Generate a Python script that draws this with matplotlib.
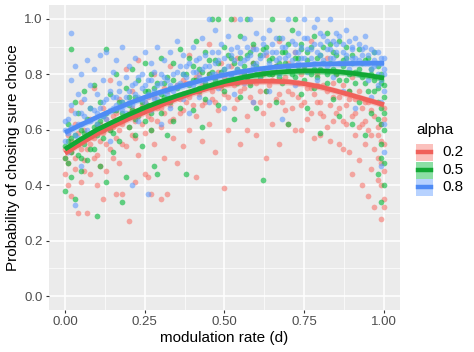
import matplotlib
matplotlib.use("Agg")
import matplotlib.pyplot as plt
from matplotlib.patches import Rectangle
from matplotlib.lines import Line2D

plt.rcParams['font.family'] = ['Liberation Sans', 'DejaVu Sans']

# ---------------- data ----------------
group_labels = ['0.2', '0.5', '0.8']
group_colors = ['#F8766D', '#00BA38', '#619CFF']
line_colors = ['#F0605A', '#12A834', '#4F8BF5']

red_x = [0.00,0.00,0.01,0.01,0.02,0.02,0.02,0.03,0.03,0.04,0.04,0.05,0.05,0.06,0.06,0.07,0.07,0.08,0.08,0.09,0.09,0.10,0.10,0.11,0.11,0.12,0.12,0.13,0.13,0.14,0.14,0.15,0.15,0.16,0.16,0.17,0.17,0.18,0.18,0.19,0.19,0.20,0.20,0.21,0.21,0.22,0.22,0.23,0.23,0.24,0.25,0.25,0.26,0.26,0.27,0.27,0.28,0.28,0.29,0.30,0.30,0.31,0.31,0.32,0.32,0.33,0.33,0.34,0.35,0.35,0.36,0.37,0.37,0.38,0.39,0.39,0.40,0.41,0.41,0.42,0.43,0.43,0.44,0.45,0.45,0.46,0.47,0.47,0.48,0.49,0.50,0.50,0.51,0.52,0.53,0.53,0.54,0.55,0.55,0.56,0.57,0.57,0.58,0.59,0.59,0.60,0.61,0.61,0.62,0.63,0.63,0.64,0.65,0.65,0.66,0.67,0.67,0.68,0.69,0.70,0.70,0.71,0.72,0.72,0.73,0.74,0.74,0.75,0.76,0.77,0.77,0.78,0.79,0.79,0.80,0.80,0.81,0.82,0.82,0.83,0.84,0.84,0.85,0.86,0.86,0.87,0.87,0.88,0.89,0.89,0.90,0.90,0.91,0.91,0.92,0.92,0.93,0.93,0.94,0.94,0.95,0.95,0.96,0.96,0.97,0.97,0.98,0.98,0.99,0.99,0.99,1.00,1.00,1.00]
red_y = [0.50,0.44,0.40,0.58,0.52,0.67,0.36,0.46,0.62,0.30,0.55,0.70,0.41,0.49,0.60,0.30,0.53,0.64,0.44,0.57,0.75,0.40,0.51,0.62,0.47,0.35,0.68,0.55,0.45,0.60,0.78,0.50,0.65,0.37,0.57,0.71,0.48,0.37,0.62,0.54,0.82,0.66,0.27,0.58,0.74,0.41,0.63,0.51,0.85,0.69,0.44,0.59,0.72,0.43,0.37,0.64,0.80,0.55,0.68,0.35,0.61,0.75,0.50,0.37,0.70,0.63,0.83,0.57,0.72,0.48,0.66,0.78,0.54,0.70,0.60,0.87,0.74,0.43,0.65,0.80,0.69,0.56,0.76,0.62,0.91,0.71,0.52,0.79,0.67,0.84,0.39,0.73,0.60,0.78,1.00,0.68,0.86,0.55,0.74,0.81,0.65,0.60,0.77,0.90,0.70,0.58,0.82,0.74,0.66,0.50,0.87,0.76,0.62,0.80,0.71,0.55,0.92,0.78,0.67,0.84,0.62,0.73,0.60,0.88,0.77,0.69,0.60,0.82,0.64,0.75,0.92,0.57,0.70,0.80,0.58,0.66,0.76,0.61,0.86,0.56,0.72,0.63,0.80,0.55,0.68,0.53,0.76,0.62,0.52,0.71,0.44,0.79,0.58,0.66,0.49,0.74,0.40,0.62,0.55,0.70,0.36,0.60,0.46,0.67,0.53,0.32,0.58,0.42,0.62,0.28,0.48,0.55,0.35,0.68]
red_band_x = [0.00,0.01,0.02,0.03,0.04,0.05,0.06,0.07,0.08,0.09,0.10,0.11,0.12,0.13,0.14,0.15,0.16,0.17,0.18,0.19,0.20,0.21,0.22,0.23,0.24,0.25,0.26,0.27,0.28,0.29,0.30,0.31,0.32,0.33,0.34,0.35,0.36,0.37,0.38,0.39,0.40,0.41,0.42,0.43,0.44,0.45,0.46,0.47,0.48,0.49,0.50,0.51,0.52,0.53,0.54,0.55,0.56,0.57,0.58,0.59,0.60,0.61,0.62,0.63,0.64,0.65,0.66,0.67,0.68,0.69,0.70,0.71,0.72,0.73,0.74,0.75,0.76,0.77,0.78,0.79,0.80,0.81,0.82,0.83,0.84,0.85,0.86,0.87,0.88,0.89,0.90,0.91,0.92,0.93,0.94,0.95,0.96,0.97,0.98,0.99,1.00,1.00,0.99,1.00,0.98]
red_band_y = [0.53,0.48,0.56,0.50,0.59,0.53,0.45,0.58,0.55,0.50,0.61,0.56,0.59,0.64,0.53,0.61,0.66,0.60,0.55,0.65,0.61,0.68,0.57,0.66,0.62,0.70,0.65,0.60,0.72,0.63,0.68,0.66,0.74,0.69,0.64,0.76,0.71,0.67,0.77,0.72,0.69,0.79,0.73,0.76,0.70,0.80,0.74,0.70,0.81,0.75,0.79,0.72,0.83,0.76,0.71,0.81,0.75,0.79,0.72,0.84,0.77,0.70,0.80,0.74,0.69,0.78,0.83,0.73,0.70,0.79,0.74,0.68,0.77,0.72,0.80,0.70,0.75,0.66,0.73,0.76,0.70,0.65,0.74,0.69,0.77,0.66,0.72,0.63,0.69,0.74,0.65,0.71,0.61,0.68,0.63,0.70,0.58,0.65,0.61,0.56,0.64,0.45,0.40,0.32,0.50]

green_x = [0.00,0.00,0.01,0.01,0.02,0.02,0.02,0.03,0.03,0.04,0.04,0.05,0.05,0.06,0.06,0.07,0.07,0.08,0.08,0.09,0.09,0.10,0.10,0.11,0.11,0.12,0.12,0.13,0.13,0.14,0.14,0.15,0.15,0.16,0.16,0.17,0.17,0.18,0.18,0.19,0.19,0.20,0.20,0.21,0.22,0.22,0.23,0.23,0.24,0.24,0.25,0.25,0.26,0.27,0.27,0.28,0.28,0.29,0.29,0.30,0.30,0.31,0.32,0.32,0.33,0.34,0.34,0.35,0.36,0.36,0.37,0.38,0.38,0.39,0.40,0.40,0.41,0.42,0.42,0.43,0.44,0.44,0.45,0.46,0.46,0.47,0.48,0.48,0.49,0.50,0.50,0.51,0.52,0.52,0.53,0.54,0.55,0.55,0.56,0.57,0.57,0.58,0.59,0.60,0.60,0.61,0.62,0.62,0.63,0.64,0.65,0.65,0.66,0.67,0.67,0.68,0.69,0.70,0.70,0.71,0.72,0.72,0.73,0.74,0.74,0.75,0.76,0.76,0.77,0.78,0.78,0.79,0.80,0.80,0.81,0.82,0.82,0.83,0.84,0.84,0.85,0.86,0.86,0.87,0.88,0.88,0.89,0.90,0.90,0.91,0.92,0.92,0.93,0.94,0.94,0.95,0.96,0.96,0.97,0.97,0.98,0.98,0.99,0.99,1.00,1.00,0.99,0.99,0.98,1.00,0.99]
green_y = [0.38,0.54,0.48,0.62,0.89,0.43,0.57,0.70,0.35,0.51,0.66,0.45,0.60,0.74,0.55,0.49,0.64,0.58,0.68,0.53,0.76,0.29,0.62,0.47,0.70,0.57,0.65,0.89,0.41,0.60,0.73,0.52,0.67,0.63,0.80,0.56,0.70,0.34,0.66,0.43,0.75,0.61,0.69,0.82,0.58,0.72,0.65,0.78,0.54,0.70,0.84,0.63,0.74,0.60,0.80,0.69,0.47,0.44,0.77,0.66,0.86,0.72,0.58,0.79,0.70,0.84,0.63,0.75,0.68,0.89,0.80,0.44,0.73,0.86,0.67,0.78,0.92,0.75,0.82,0.61,0.88,0.71,0.80,1.00,0.76,0.85,1.00,0.69,0.81,0.90,0.74,0.78,1.00,0.86,0.64,0.82,0.94,0.72,0.80,1.00,0.87,0.76,0.91,0.68,0.83,0.79,0.42,0.89,0.74,0.85,1.00,0.80,0.70,0.93,0.84,0.77,0.88,0.82,0.62,0.96,1.00,0.79,0.86,0.73,0.91,0.83,0.68,0.88,0.80,0.94,0.75,0.86,0.82,0.59,0.90,0.77,0.95,0.84,0.71,0.88,0.80,0.92,0.65,0.85,0.78,0.90,0.74,0.87,0.62,0.81,0.89,0.70,0.84,0.77,0.58,0.86,0.80,0.66,0.74,0.88,0.70,0.83,0.62,0.77,0.72,0.66,0.55,0.50,0.44,0.40,0.34]
green_band_x = [0.00,0.01,0.02,0.03,0.04,0.05,0.06,0.07,0.08,0.09,0.10,0.11,0.12,0.13,0.14,0.15,0.16,0.17,0.18,0.19,0.20,0.21,0.22,0.23,0.24,0.25,0.26,0.27,0.28,0.29,0.30,0.31,0.32,0.33,0.34,0.35,0.36,0.37,0.38,0.39,0.40,0.41,0.42,0.43,0.44,0.45,0.46,0.47,0.48,0.49,0.50,0.51,0.52,0.53,0.54,0.55,0.56,0.57,0.58,0.59,0.60,0.61,0.62,0.63,0.64,0.65,0.66,0.67,0.68,0.69,0.70,0.71,0.72,0.73,0.74,0.75,0.76,0.77,0.78,0.79,0.80,0.81,0.82,0.83,0.84,0.85,0.86,0.87,0.88,0.89,0.90,0.91,0.92,0.93,0.94,0.95,0.96,0.97,0.98,0.99,1.00,0.99,1.00,0.98,1.00]
green_band_y = [0.50,0.56,0.52,0.58,0.55,0.50,0.59,0.57,0.53,0.61,0.58,0.63,0.60,0.66,0.62,0.59,0.67,0.63,0.70,0.65,0.72,0.67,0.64,0.71,0.68,0.74,0.69,0.66,0.75,0.70,0.73,0.77,0.71,0.75,0.78,0.72,0.76,0.73,0.80,0.76,0.83,0.78,0.74,0.81,0.77,0.85,0.81,0.78,0.84,0.76,0.82,0.87,0.80,0.84,0.77,0.86,0.83,0.79,0.88,0.84,0.80,0.87,0.82,0.90,0.80,0.86,0.83,0.79,0.88,0.84,0.91,0.80,0.86,0.83,0.89,0.78,0.85,0.90,0.82,0.79,0.87,0.84,0.80,0.91,0.82,0.87,0.78,0.83,0.86,0.80,0.84,0.77,0.82,0.79,0.85,0.74,0.82,0.78,0.75,0.80,0.76,0.68,0.60,0.64,0.48]

blue_x = [0.00,0.00,0.01,0.01,0.02,0.02,0.02,0.03,0.03,0.03,0.04,0.04,0.05,0.05,0.05,0.06,0.06,0.07,0.07,0.08,0.08,0.09,0.09,0.10,0.10,0.11,0.11,0.12,0.12,0.13,0.13,0.14,0.14,0.15,0.15,0.16,0.16,0.17,0.17,0.18,0.18,0.19,0.19,0.20,0.20,0.21,0.21,0.22,0.22,0.23,0.23,0.24,0.24,0.25,0.25,0.26,0.26,0.27,0.27,0.28,0.28,0.29,0.29,0.30,0.30,0.31,0.31,0.32,0.33,0.33,0.34,0.35,0.35,0.36,0.37,0.37,0.38,0.39,0.39,0.40,0.40,0.41,0.42,0.42,0.43,0.44,0.44,0.45,0.45,0.46,0.47,0.47,0.48,0.48,0.49,0.50,0.50,0.51,0.52,0.52,0.53,0.54,0.55,0.55,0.56,0.56,0.57,0.58,0.58,0.59,0.59,0.60,0.60,0.61,0.62,0.62,0.63,0.64,0.64,0.65,0.66,0.66,0.67,0.68,0.68,0.69,0.70,0.70,0.71,0.72,0.72,0.73,0.73,0.74,0.75,0.75,0.76,0.76,0.77,0.78,0.78,0.79,0.79,0.80,0.80,0.81,0.82,0.82,0.83,0.83,0.84,0.84,0.85,0.85,0.86,0.87,0.87,0.88,0.88,0.89,0.90,0.90,0.91,0.91,0.92,0.92,0.93,0.94,0.94,0.95,0.95,0.96,0.96,0.97,0.97,0.98,0.98,0.99,0.99,1.00,1.00,1.00,0.99]
blue_y = [0.60,0.56,0.64,0.52,0.95,0.78,0.69,0.83,0.58,0.33,0.73,0.62,0.80,0.66,0.47,0.71,0.57,0.85,0.63,0.76,0.68,0.59,0.82,0.66,0.73,0.87,0.61,0.70,0.78,0.64,0.88,0.74,0.56,0.81,0.68,0.72,0.85,0.63,0.77,0.70,0.90,0.79,0.66,0.74,0.83,0.40,0.69,0.77,0.86,0.72,0.63,0.80,0.75,0.88,0.70,0.37,0.78,0.67,0.84,0.74,0.81,0.90,0.71,0.77,0.62,0.85,0.79,0.73,0.88,0.68,0.80,0.76,0.92,0.83,0.71,0.87,0.79,0.66,0.84,0.90,0.76,0.81,0.72,0.86,0.93,0.78,0.83,1.00,0.70,0.88,0.80,0.96,0.75,0.85,0.91,0.82,0.68,0.94,0.79,0.87,0.73,0.90,1.00,0.84,0.77,0.93,0.86,1.00,0.81,0.70,0.89,0.95,0.84,0.78,0.91,0.87,0.82,0.96,0.74,0.88,0.85,0.93,0.80,0.90,0.64,0.86,1.00,0.83,0.92,0.88,0.76,0.95,0.84,0.90,1.00,0.86,0.81,0.93,0.89,0.97,0.84,1.00,0.78,0.91,0.87,0.94,0.83,0.89,1.00,0.86,0.92,0.79,0.95,0.88,0.84,0.91,0.74,0.87,0.96,0.82,0.90,0.86,0.93,0.68,0.85,0.80,0.89,0.84,0.94,0.78,0.87,0.82,0.72,0.88,0.85,0.80,0.76,0.70,0.84,0.62,0.82,0.52,0.47]
blue_band_x = [0.00,0.01,0.02,0.03,0.04,0.05,0.06,0.07,0.08,0.09,0.10,0.11,0.12,0.13,0.14,0.15,0.16,0.17,0.18,0.19,0.20,0.21,0.22,0.23,0.24,0.25,0.26,0.27,0.28,0.29,0.30,0.31,0.32,0.33,0.34,0.35,0.36,0.37,0.38,0.39,0.40,0.41,0.42,0.43,0.44,0.45,0.46,0.47,0.48,0.49,0.50,0.51,0.52,0.53,0.54,0.55,0.56,0.57,0.58,0.59,0.60,0.61,0.62,0.63,0.64,0.65,0.66,0.67,0.68,0.69,0.70,0.71,0.72,0.73,0.74,0.75,0.76,0.77,0.78,0.79,0.80,0.81,0.82,0.83,0.84,0.85,0.86,0.87,0.88,0.89,0.90,0.91,0.92,0.93,0.94,0.95,0.96,0.97,0.98,0.99,1.00,1.00,0.99,1.00]
blue_band_y = [0.63,0.59,0.61,0.66,0.57,0.62,0.65,0.60,0.63,0.67,0.62,0.68,0.65,0.71,0.67,0.72,0.69,0.74,0.67,0.72,0.70,0.76,0.73,0.79,0.71,0.76,0.73,0.78,0.71,0.76,0.80,0.74,0.78,0.76,0.74,0.81,0.77,0.80,0.83,0.77,0.81,0.85,0.79,0.82,0.87,0.83,0.80,0.84,0.88,0.80,0.86,0.83,0.89,0.85,0.82,0.88,0.85,0.90,0.87,0.83,0.89,0.86,0.93,0.88,0.84,0.91,0.88,0.86,0.93,0.90,0.87,0.85,0.91,0.88,0.86,0.93,0.89,0.86,0.91,0.88,0.95,0.85,0.92,0.89,0.86,0.91,0.94,0.88,0.85,0.92,0.89,0.86,0.91,0.87,0.90,0.84,0.89,0.83,0.88,0.86,0.80,0.86,0.78,0.74]

smooth_x = [0.00,0.05,0.10,0.15,0.20,0.25,0.30,0.35,0.40,0.45,0.50,0.55,0.60,0.65,0.70,0.75,0.80,0.85,0.90,0.95,1.00]
red_smooth = [0.515,0.551,0.585,0.613,0.640,0.663,0.688,0.712,0.733,0.750,0.763,0.771,0.775,0.775,0.773,0.766,0.755,0.740,0.724,0.707,0.690]
green_smooth = [0.530,0.566,0.600,0.628,0.655,0.680,0.702,0.722,0.740,0.758,0.774,0.787,0.798,0.806,0.810,0.812,0.812,0.810,0.804,0.796,0.786]
blue_smooth = [0.590,0.618,0.645,0.671,0.695,0.717,0.736,0.753,0.769,0.785,0.798,0.809,0.818,0.825,0.830,0.834,0.837,0.838,0.839,0.840,0.840]

x_ticks = [0.00, 0.25, 0.50, 0.75, 1.00]
x_tick_labels = ['0.00', '0.25', '0.50', '0.75', '1.00']
y_ticks = [0.0, 0.2, 0.4, 0.6, 0.8, 1.0]
y_tick_labels = ['0.0', '0.2', '0.4', '0.6', '0.8', '1.0']

# ---------------- figure ----------------
W, H = 474, 352
fig = plt.figure(figsize=(W / 100, H / 100), dpi=100)
ax = fig.add_axes([49 / W, 1 - 310 / H, (400 - 49) / W, (310 - 5) / H])
ax.set_facecolor('#EBEBEB')
for s in ax.spines.values():
    s.set_visible(False)

ax.set_xlim(-0.05, 1.05)
ax.set_ylim(-0.05, 1.05)
ax.set_xticks(x_ticks)
ax.set_xticklabels(x_tick_labels)
ax.set_yticks(y_ticks)
ax.set_yticklabels(y_tick_labels)
ax.set_xticks([0.125, 0.375, 0.625, 0.875], minor=True)
ax.set_yticks([0.1, 0.3, 0.5, 0.7, 0.9], minor=True)
ax.grid(which='major', color='white', lw=1.1)
ax.grid(which='minor', color='white', lw=0.5)
ax.set_axisbelow(True)
ax.tick_params(which='major', length=2.5, width=0.8, color='#333333',
               labelsize=9.5, labelcolor='#4D4D4D', pad=2)
ax.tick_params(which='minor', length=0)

xs = [red_x + red_band_x, green_x + green_band_x, blue_x + blue_band_x]
ys = [red_y + red_band_y, green_y + green_band_y, blue_y + blue_band_y]
for gx, gy, c in zip(xs, ys, group_colors):
    ax.scatter(gx, gy, s=17, color=c, alpha=0.6, linewidths=0, zorder=2)

smooths = [red_smooth, green_smooth, blue_smooth]
for sm, c, lc in zip(smooths, group_colors, line_colors):
    lo = [v - 0.012 for v in sm]
    hi = [v + 0.012 for v in sm]
    ax.fill_between(smooth_x, lo, hi, color=c, alpha=0.35, lw=0, zorder=3)
    ax.plot(smooth_x, sm, color=lc, lw=3.4, zorder=4, solid_capstyle='butt')

ax.set_xlabel('modulation rate (d)', fontsize=11, color='black', labelpad=2)
ax.set_ylabel('Probability of chosing sure choice', fontsize=11, color='black', labelpad=3)

# ---------------- legend ----------------
fig.text(416 / W, 1 - 130 / H, 'alpha', fontsize=11, ha='left', va='center')
key_y = [152, 170, 187]
for lab, c, lc, ky in zip(group_labels, group_colors, line_colors, key_y):
    fig.patches.append(Rectangle((416 / W, 1 - (ky + 8.5) / H), 17 / W, 17 / H,
                                 transform=fig.transFigure, facecolor=c,
                                 alpha=0.45, edgecolor='none'))
    fig.lines.append(Line2D([418 / W, 431 / W], [1 - ky / H, 1 - ky / H],
                            transform=fig.transFigure, color=lc, lw=3.2))
    fig.text(442 / W, 1 - ky / H, lab, fontsize=11, ha='left', va='center')

fig.savefig('out.png', dpi=100, facecolor='white')
